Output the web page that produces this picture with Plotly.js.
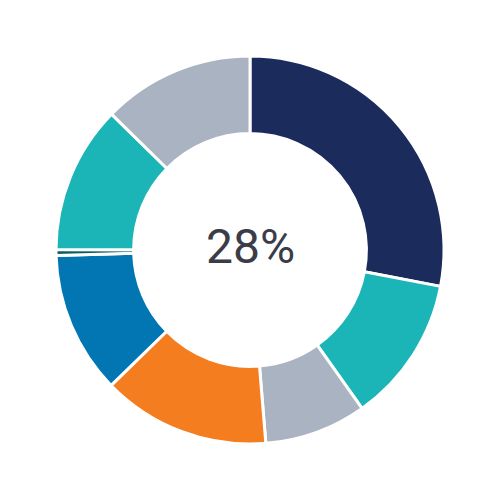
<!DOCTYPE html>
<html>
<head>
<meta charset="utf-8">
<script src="https://cdn.plot.ly/plotly-3.0.1.min.js"></script>
<style>html,body{margin:0;padding:0;background:#fff;}#chart{width:500px;height:500px;}</style>
</head>
<body>
<div id="chart"></div>
<script>
var labels = ["A", "B", "C", "D", "E", "F", "G", "H"];
var values = [28, 12.2, 8.5, 14, 11.85, 0.5, 12.3, 12.65];
var colors = ["#1b2b5b", "#1bb5b7", "#a9b3c1", "#f47d20", "#0276b3", "#0b5e5e", "#1bb5b7", "#a9b3c1"];
var centerText = "28%";

var data = [{
  type: "pie",
  labels: labels,
  values: values,
  hole: 0.6,
  sort: false,
  direction: "clockwise",
  rotation: 0,
  textinfo: "none",
  hoverinfo: "none",
  marker: {colors: colors, line: {color: "#ffffff", width: 3}},
  showlegend: false
}];
var layout = {
  width: 500, height: 500,
  margin: {l: 56, r: 56, t: 56, b: 56},
  paper_bgcolor: "#ffffff",
  showlegend: false,
  annotations: [{
    text: centerText, x: 0.5, y: 0.5, xref: "paper", yref: "paper",
    yshift: 4,
    showarrow: false, font: {family: "Roboto", size: 48, color: "#3a3d48"}
  }]
};
Plotly.newPlot("chart", data, layout, {displayModeBar: false, staticPlot: true});
</script>
</body>
</html>
